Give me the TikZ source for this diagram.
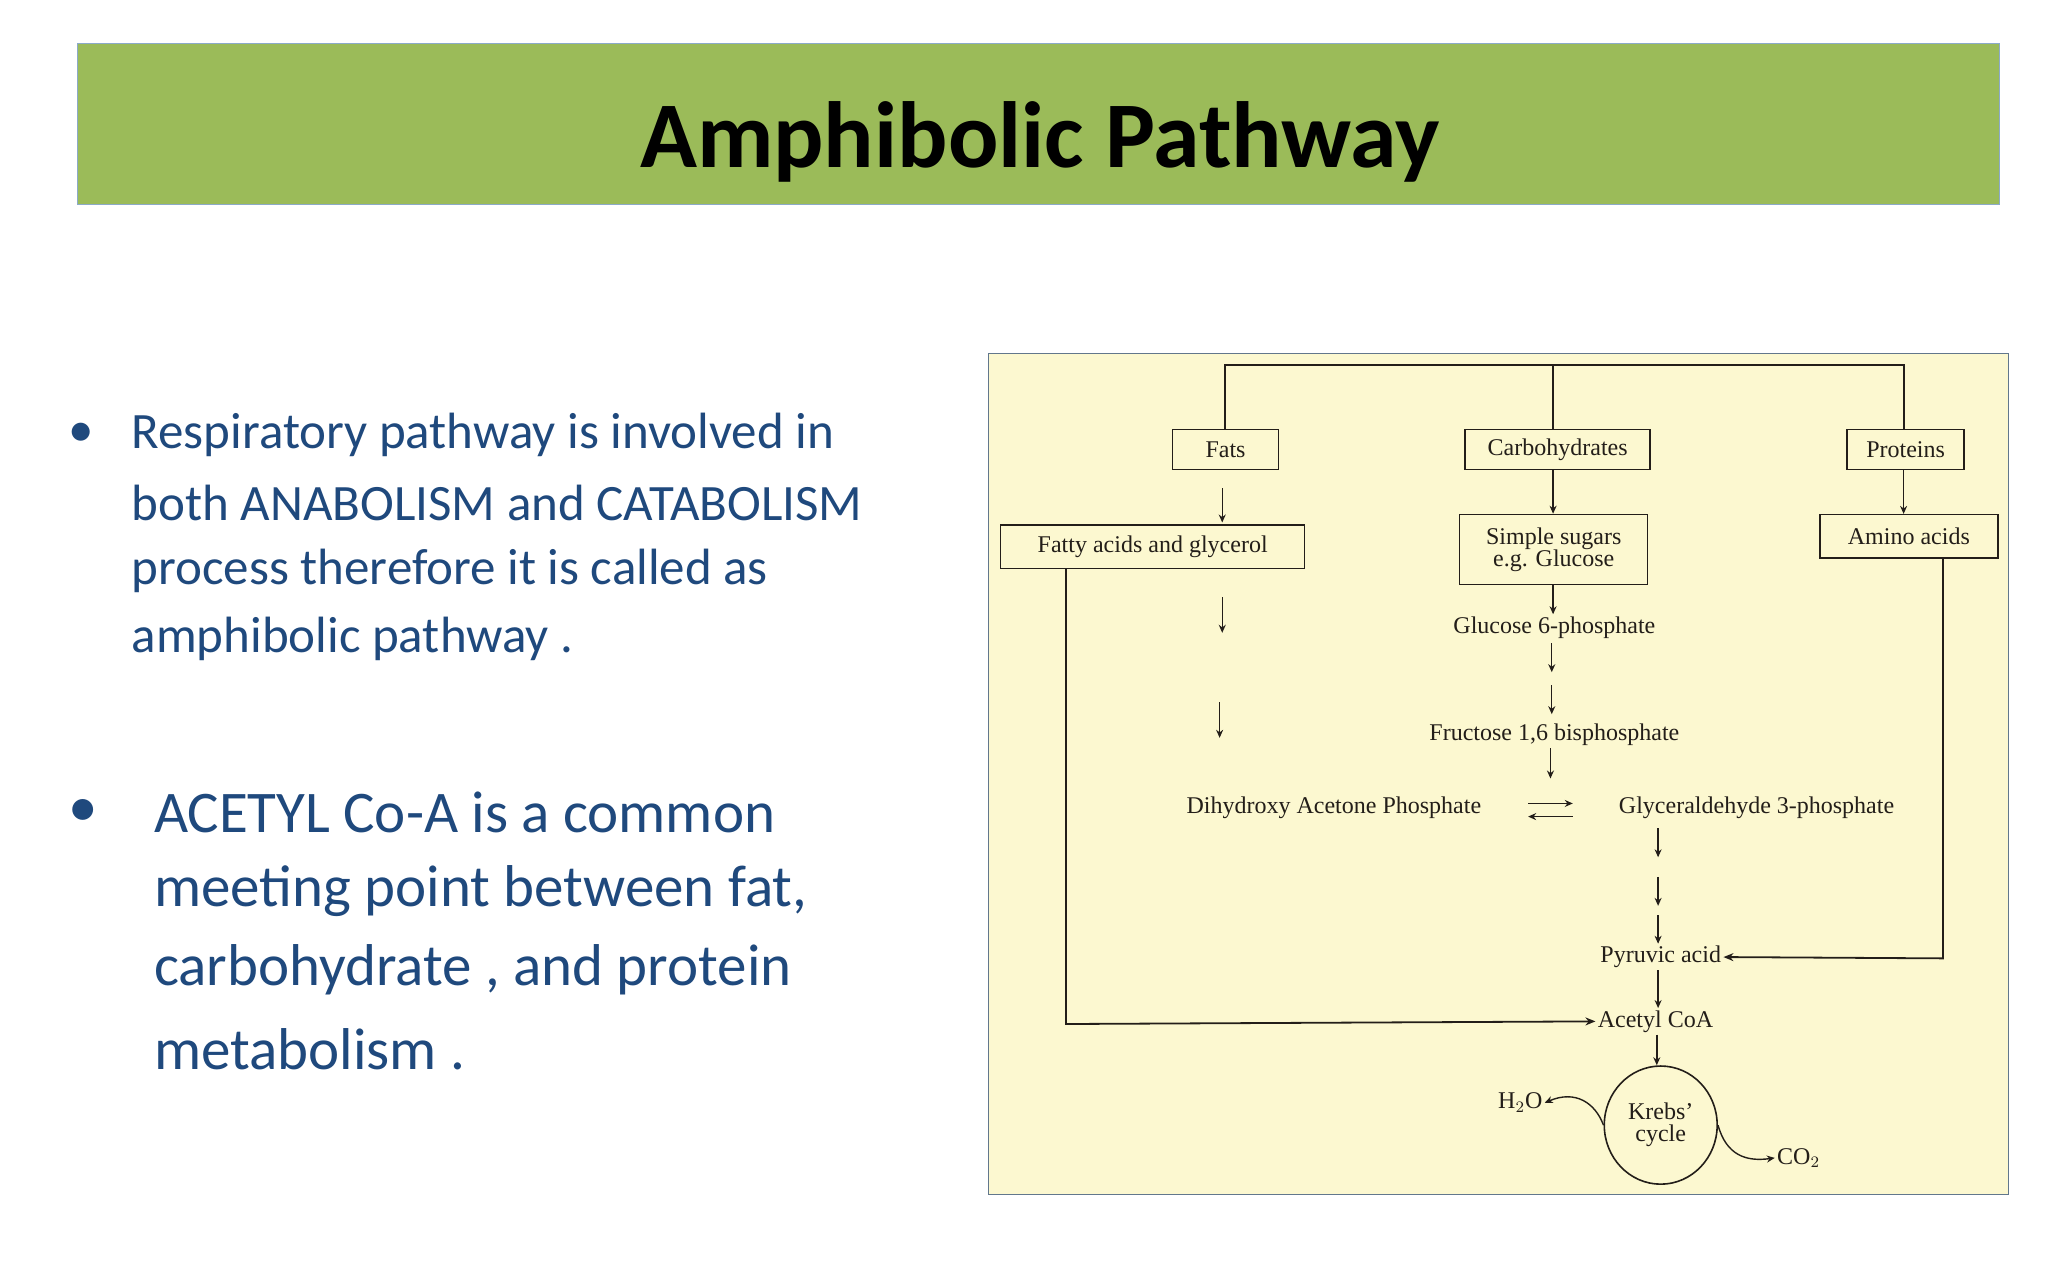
\documentclass[tikz,border=0pt]{standalone}
\usepackage{fontspec}
\setmainfont{Liberation Serif}
\newfontfamily\calfont{Carlito}
\usetikzlibrary{arrows.meta,shapes.geometric}
\definecolor{banner}{RGB}{155,187,89}
\definecolor{bannerline}{RGB}{140,170,200}
\definecolor{txtblue}{RGB}{31,73,125}
\definecolor{panel}{RGB}{252,248,208}
\definecolor{ink}{RGB}{35,30,25}
\begin{document}
\begin{tikzpicture}[x=0.6564pt,y=-0.6564pt,
  box/.style={draw=ink,line width=0.7pt,inner sep=1pt,font=\fontsize{12}{13}\selectfont,text=ink,align=center},
  lbl/.style={inner sep=1pt,font=\fontsize{12}{13}\selectfont,text=ink},
  ar/.style={draw=ink,line width=0.7pt,-{Stealth[length=4pt,width=3.5pt]}},
  ln/.style={draw=ink,line width=0.9pt},
  bul/.style={anchor=west,text=txtblue,inner sep=0pt}]
\useasboundingbox (0,0) rectangle (1560,962);
\fill[white] (0,0) rectangle (1560,962);
% banner
\node[draw=bannerline,fill=banner,minimum width=1464*0.6564pt,minimum height=123*0.6564pt,inner sep=0pt] (banner) at (791,94.5) {};
\node[font=\calfont\bfseries\fontsize{47}{50}\selectfont,text=black] (title) at (792,108) {Amphibolic Pathway};
% bullets
\begin{scope}[font=\calfont\fontsize{25.5}{28}\selectfont]
\node[bul] (b1) at (52,331) {•};
\node[bul] (t1) at (100,331) {Respiratory pathway is involved in};
\node[bul] (t2) at (100,383) {both ANABOLISM and CATABOLISM};
\node[bul] (t3) at (100,435) {process therefore it is called as};
\node[bul] (t4) at (100,487) {amphibolic pathway .};
\end{scope}
\begin{scope}[font=\calfont\fontsize{29.5}{32}\selectfont]
\node[bul] (b2) at (52,619) {•};
\node[bul] (u1) at (117,619) {ACETYL Co-A is a common};
\node[bul] (u2) at (117,679) {meeting point between fat,};
\node[bul] (u3) at (117,739) {carbohydrate , and protein};
\node[bul] (u4) at (117,799) {metabolism .};
\end{scope}
% panel
\node[draw=bannerline!70!black,fill=panel,line width=0.6pt,minimum width=777*0.6564pt,minimum height=641*0.6564pt,inner sep=0pt] (panel) at (1141.5,589.5) {};
% boxes
\node[box,minimum width=53pt,minimum height=20pt] (fats) at (933.5,342.5) {Fats};
\node[box,minimum width=92.5pt,minimum height=20pt] (carb) at (1186.5,342.5) {Carbohydrates};
\node[box,minimum width=58.4pt,minimum height=20pt] (prot) at (1451.5,342.5) {Proteins};
\node[box,minimum width=152pt,minimum height=21.7pt] (fatty) at (878,416.5) {Fatty acids and glycerol};
\node[box,minimum width=94pt,minimum height=35pt,inner sep=0pt] (sugar) at (1183.5,418.5) {Simple sugars\\[-2pt]e.g. Glucose};
\node[box,minimum width=89pt,minimum height=21.7pt] (amino) at (1454,408.5) {Amino acids};
% top bracket
\coordinate (tl) at (933,278);
\coordinate (tr) at (1450,278);
\draw[ln] (fats.north -| tl) -- (tl) -- (tr) -- (prot.north -| tr);
\draw[ln] (1183,278) -- (carb.north -| 1183,0);
% texts
\node[lbl] (g6p) at (1184,478) {Glucose 6-phosphate};
\node[lbl] (f16) at (1184,560) {Fructose 1,6 bisphosphate};
\node[lbl] (dhap) at (1016,615) {Dihydroxy Acetone Phosphate};
\node[lbl] (g3p) at (1338,615) {Glyceraldehyde 3-phosphate};
\node[lbl] (pyr) at (1265,729) {Pyruvic acid};
\node[lbl] (acoa) at (1261,778) {Acetyl CoA};
\node[draw=ink,line width=0.8pt,ellipse,minimum width=86*0.6564pt,minimum height=90*0.6564pt,inner sep=0pt,font=\fontsize{12}{13}\selectfont,text=ink,align=center] (krebs) at (1265,857) {Krebs'\\[-2pt]cycle};
\node[lbl] (h2o) at (1158,840) {H$_2$O};
\node[lbl] (co2) at (1370,882) {CO$_2$};
% arrows
\draw[ar] (carb.south -| 1183,0) -- (sugar.north -| 1183,0);
\draw[ar] (prot.south -| 1450,0) -- (amino.north -| 1450,0);
\coordinate (fa1) at (931,372); \coordinate (fa2) at (931,398);
\draw[ar] (fa1) -- (fa2);
\coordinate (fb1) at (931,455); \coordinate (fb2) at (931,482);
\draw[ar] (fb1) -- (fb2);
\coordinate (fc1) at (929,535); \coordinate (fc2) at (929,562);
\draw[ar] (fc1) -- (fc2);
\draw[ar] (sugar.south -| 1183,0) -- (g6p.north -| 1183,0);
\coordinate (m1) at (1182,490); \coordinate (m2) at (1182,512);
\draw[ar] (m1) -- (m2);
\coordinate (m3) at (1182,522); \coordinate (m4) at (1182,544);
\draw[ar] (m3) -- (m4);
\draw[ar] (f16.south -| 1181,0) -- (1181,593);
\coordinate (e1) at (1164,612); \coordinate (e2) at (1198,612);
\coordinate (e3) at (1198,622); \coordinate (e4) at (1164,622);
\draw[ar] (e1) -- (e2);
\draw[ar] (e3) -- (e4);
\coordinate (p1) at (1263,631); \coordinate (p2) at (1263,653);
\coordinate (p3) at (1263,668); \coordinate (p4) at (1263,690);
\coordinate (p5) at (1263,697);
\draw[ar] (p1) -- (p2);
\draw[ar] (p3) -- (p4);
\draw[ar] (p5) -- (pyr.north -| p5);
\draw[ar] (pyr.south -| 1263,0) -- (acoa.north -| 1263,0);
\draw[ar] (acoa.south -| 1262,0) -- (krebs.north -| 1262,0);
\draw[ln,-{Stealth[length=5pt,width=4pt]}] (amino.south -| 1480,0) -- (1480,730) -- (pyr.east);
\draw[ln,-{Stealth[length=5pt,width=4pt]}] (fatty.south -| 812,0) -- (812,780) -- (acoa.west);
\draw[ar] (krebs.west) .. controls (1215,840) and (1200,830) .. (h2o.east);
\draw[ar] (krebs.east) .. controls (1315,880) and (1330,885) .. (co2.west);
\end{tikzpicture}
\end{document}
